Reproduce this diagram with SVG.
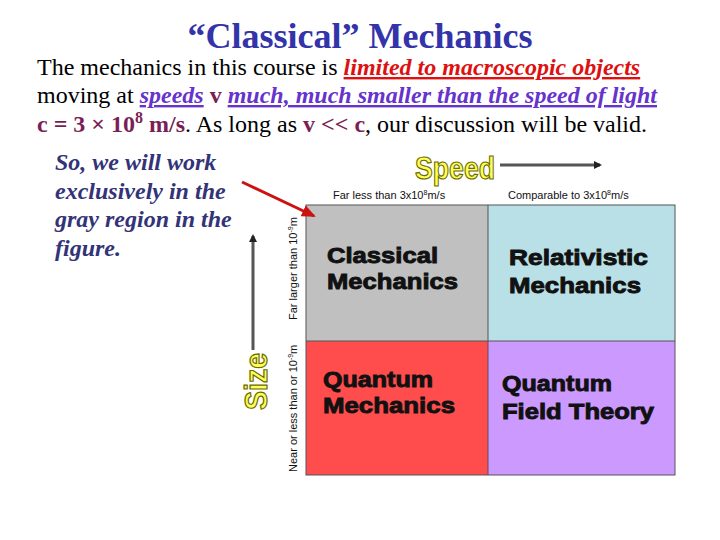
<svg xmlns="http://www.w3.org/2000/svg" width="720" height="540" viewBox="0 0 720 540">
<style>
.body{font-family:"Liberation Serif","Times New Roman",serif;font-size:24px;fill:#000}
.ri{font-weight:bold;font-style:italic;text-decoration:underline}
.mar{font-weight:bold;fill:#7a1f55}
.cell{font-family:"Liberation Sans",Arial,sans-serif;font-weight:bold;font-size:22px;fill:#111;stroke:#111;stroke-width:0.9}
.hdr{font-family:"Liberation Sans",Arial,sans-serif;font-size:11px;fill:#111}
.big{font-family:"Liberation Sans",Arial,sans-serif;font-weight:bold;font-size:32px;fill:#ffff55;stroke:#6b6b00;stroke-width:1.2}
.note{font-family:"Liberation Serif","Times New Roman",serif;font-size:24px;font-weight:bold;font-style:italic;fill:#333377}
</style>
<defs>
<marker id="ah" markerWidth="8" markerHeight="8" refX="6" refY="4" orient="auto" markerUnits="userSpaceOnUse"><path d="M0,0 L8,4 L0,8 z" fill="#222"/></marker>
<marker id="ahr" markerWidth="14" markerHeight="12" refX="12" refY="6" orient="auto" markerUnits="userSpaceOnUse"><path d="M0,0 L14,6 L0,12 z" fill="#cc1111"/></marker>
</defs>
<g id="title"><text x="360" y="48" text-anchor="middle" font-family="'Liberation Serif','Times New Roman',serif" font-size="36" font-weight="bold" fill="#3333aa">“Classical” Mechanics</text></g>
<g id="paragraph">
<text class="body" x="37" y="75">The mechanics in this course is <tspan class="ri" fill="#dd1111">limited to macroscopic objects</tspan></text>
<text class="body" x="37" y="103">moving at <tspan class="ri" fill="#6633cc">speeds</tspan> <tspan class="mar">v</tspan> <tspan class="ri" fill="#6633cc">much, much smaller than the speed of light</tspan></text>
<text class="body" x="37" y="132"><tspan class="mar">c = 3 × 10</tspan><tspan class="mar" font-size="16" dy="-9">8</tspan><tspan class="mar" dy="9"> m/s</tspan>. As long as <tspan class="mar">v &lt;&lt; c</tspan>, our discussion will be valid.</text>
</g>
<g id="note">
<text class="note" x="55" y="170">So, we will work</text>
<text class="note" x="55" y="199">exclusively in the</text>
<text class="note" x="55" y="227">gray region in the</text>
<text class="note" x="55" y="256">figure.</text>
</g>
<g id="cell-classical"><rect x="306" y="205" width="182" height="136" fill="#c0c0c0"/>
<text class="cell" x="327" y="263" textLength="111" lengthAdjust="spacingAndGlyphs">Classical</text>
<text class="cell" x="327" y="289" textLength="131" lengthAdjust="spacingAndGlyphs">Mechanics</text></g>
<g id="cell-relativistic"><rect x="488" y="205" width="187" height="136" fill="#b9e0e6"/>
<text class="cell" x="509" y="265" textLength="139" lengthAdjust="spacingAndGlyphs">Relativistic</text>
<text class="cell" x="509" y="293" textLength="132" lengthAdjust="spacingAndGlyphs">Mechanics</text></g>
<g id="cell-quantum"><rect x="306" y="341" width="182" height="134" fill="#ff4d4d"/>
<text class="cell" x="323" y="387" fill="#2a0505" stroke="#2a0505" textLength="110" lengthAdjust="spacingAndGlyphs">Quantum</text>
<text class="cell" x="323" y="413" fill="#2a0505" stroke="#2a0505" textLength="132" lengthAdjust="spacingAndGlyphs">Mechanics</text></g>
<g id="cell-qft"><rect x="488" y="341" width="187" height="134" fill="#cc99ff"/>
<text class="cell" x="502" y="391" fill="#0a0520" stroke="#0a0520" textLength="110" lengthAdjust="spacingAndGlyphs">Quantum</text>
<text class="cell" x="502" y="419" fill="#0a0520" stroke="#0a0520" textLength="152" lengthAdjust="spacingAndGlyphs">Field Theory</text></g>
<g id="grid-lines" fill="none" stroke="#555" stroke-width="1">
<rect x="306" y="205" width="369" height="270"/>
<line x1="488" y1="205" x2="488" y2="475"/>
<line x1="306" y1="341" x2="675" y2="341"/>
</g>
<g id="headers">
<text class="hdr" x="333" y="199">Far less than 3x10<tspan font-size="7" dy="-4">8</tspan><tspan dy="4">m/s</tspan></text>
<text class="hdr" x="508" y="199">Comparable to 3x10<tspan font-size="7" dy="-4">8</tspan><tspan dy="4">m/s</tspan></text>
<text class="hdr" transform="translate(297,320) rotate(-90)">Far larger than 10<tspan font-size="7" dy="-4">-9</tspan><tspan dy="4">m</tspan></text>
<text class="hdr" transform="translate(297,472) rotate(-90)">Near or less than or 10<tspan font-size="7" dy="-4">-9</tspan><tspan dy="4">m</tspan></text>
</g>
<g id="speed-label"><text class="big" x="415" y="179" textLength="80" lengthAdjust="spacingAndGlyphs">Speed</text></g>
<g id="size-label"><text class="big" transform="translate(267,410) rotate(-90)" textLength="57" lengthAdjust="spacingAndGlyphs">Size</text></g>
<g id="connectors">
<line x1="500" y1="165" x2="600" y2="165" stroke="#555" stroke-width="3" marker-end="url(#ah)"/>
<line x1="253" y1="350" x2="253" y2="236" stroke="#555" stroke-width="3" marker-end="url(#ah)"/>
<line x1="242" y1="182" x2="314" y2="216" stroke="#cc1111" stroke-width="3" marker-end="url(#ahr)"/>
</g>
</svg>
